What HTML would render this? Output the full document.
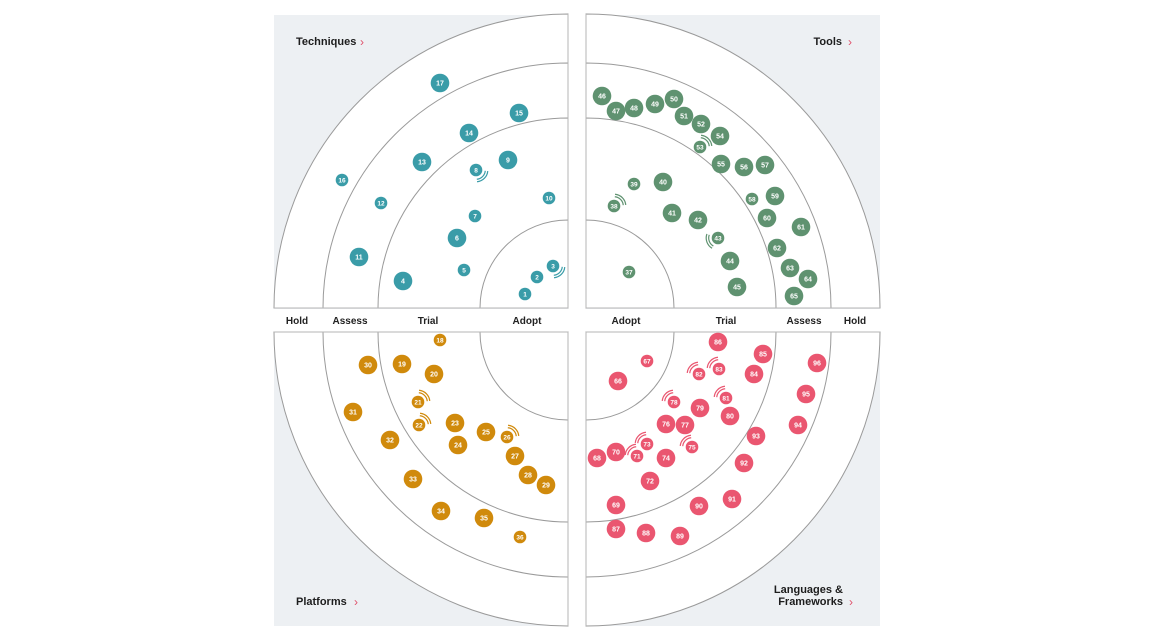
<!DOCTYPE html>
<html><head><meta charset="utf-8"><style>
html,body{margin:0;padding:0;background:#fff;width:1170px;height:634px;overflow:hidden}
svg{display:block;font-family:"Liberation Sans",sans-serif}
</style></head><body>
<svg id="radar" width="1170" height="634" viewBox="0 0 1170 634" xmlns="http://www.w3.org/2000/svg"></svg>
<script>
const NS='http://www.w3.org/2000/svg';
const ringNames=['Adopt','Trial','Assess','Hold'];
const ringRadii=[88,190,245,294];
const quadNames=['Techniques','Tools','Platforms','Languages & Frameworks'];
const quadColors=['#3a9ca8','#5f9270','#d08a0c','#ea5670'];
const techIds=[1,2,3,4,5,6,7,8,9,10,11,12,13,14,15,16,17];
const techDx=[-43,-31,-15,-165,-104,-111,-93,-92,-60,-19,-209,-187,-146,-99,-49,-226,-128];
const techDy=[-14,-31,-42,-27,-38,-70,-92,-138,-148,-110,-51,-105,-146,-175,-195,-128,-225];
const techBig=[0,0,0,1,0,1,0,0,1,0,1,0,1,1,1,0,1];
const techArc=[null,null,45,null,null,null,null,45,null,null,null,null,null,null,null,null,null];
const toolIds=[37,38,39,40,41,42,43,44,45,46,47,48,49,50,51,52,53,54,55,56,57,58,59,60,61,62,63,64,65];
const toolDx=[43,28,48,77,86,112,132,144,151,16,30,48,69,88,98,115,114,134,135,158,179,166,189,181,215,191,204,222,208];
const toolDy=[-36,-102,-124,-126,-95,-88,-70,-47,-21,-212,-197,-200,-204,-209,-192,-184,-161,-172,-144,-141,-143,-109,-112,-90,-81,-60,-40,-29,-12];
const toolBig=[0,0,0,1,1,1,0,1,1,1,1,1,1,1,1,1,0,1,1,1,1,0,1,1,1,1,1,1,1];
const toolArc=[null,-45,null,null,null,null,160,null,null,null,null,null,null,null,null,null,-45,null,null,null,null,null,null,null,null,null,null,null,null];
const platIds=[18,19,20,21,22,23,24,25,26,27,28,29,30,31,32,33,34,35,36];
const platDx=[-128,-166,-134,-150,-149,-113,-110,-82,-61,-53,-40,-22,-200,-215,-178,-155,-127,-84,-48];
const platDy=[8,32,42,70,93,91,113,100,105,124,143,153,33,80,108,147,179,186,205];
const platBig=[0,1,1,0,0,1,1,1,0,1,1,1,1,1,1,1,1,1,0];
const platArc=[null,null,null,-45,-45,null,null,null,-45,null,null,null,null,null,null,null,null,null,null];
const langIds=[66,67,68,69,70,71,72,73,74,75,76,77,78,79,80,81,82,83,84,85,86,87,88,89,90,91,92,93,94,95,96];
const langDx=[32,61,11,30,30,51,64,61,80,106,80,99,88,114,144,140,113,133,168,177,132,30,60,94,113,146,158,170,212,220,231];
const langDy=[49,29,126,173,120,124,149,112,126,115,92,93,70,76,84,66,42,37,42,22,10,197,201,204,174,167,131,104,93,62,31];
const langBig=[1,0,1,1,1,0,1,0,1,0,1,1,0,1,1,0,0,0,1,1,1,1,1,1,1,1,1,1,1,1,1];
const langArc=[null,null,null,null,null,-135,null,-135,null,-135,null,null,-135,null,null,-135,-135,-135,null,null,null,null,null,null,null,null,null,null,null,null,null];

const svg=document.getElementById('radar');
function mk(tag,attrs,parent){const e=document.createElementNS(NS,tag);for(const k in attrs)e.setAttribute(k,attrs[k]);(parent||svg).appendChild(e);return e;}
const quads=[{cx:568,cy:308,sx:-1,sy:-1,bx:274,by:15},{cx:586,cy:308,sx:1,sy:-1,bx:586,by:15},{cx:568,cy:332,sx:-1,sy:1,bx:274,by:332},{cx:586,cy:332,sx:1,sy:1,bx:586,by:332}];
const W=294;
function xScale(q,v){return q.cx+v;}
function yScale(q,v){return q.cy+v;}

quads.forEach((q,i)=>{
  const g=mk('g',{});
  
  
  const bg=mk('rect',{x:q.bx,y:q.by,width:W,height:W,fill:'#edf0f3'},g);
  
  
  for(let r=ringRadii.length-1;r>=0;r--){
    const R=ringRadii[r];
    const ex=q.cx+q.sx*R, ey=q.cy+q.sy*R;
    const sweep=(q.sx*q.sy>0)?1:0;
    const d=`M${q.cx},${q.cy} L${ex},${q.cy} A${R},${R} 0 0 ${sweep} ${q.cx},${ey} Z`;
    const p=mk('path',{d:d,fill:'#fff',stroke:'#9a9a9a','stroke-width':1},g);
    
    
  }
  mk('line',{x1:q.cx,y1:q.cy,x2:q.cx+q.sx*W,y2:q.cy,stroke:'#b5b5b5','stroke-width':1},g);
  mk('line',{x1:q.cx,y1:q.cy,x2:q.cx,y2:q.cy+q.sy*W,stroke:'#b5b5b5','stroke-width':1},g);
});

const labelXL=[527,428,350,297], labelXR=[626,726,804,855];
ringNames.forEach((n,i)=>{
  [labelXL[i],labelXR[i]].forEach(x=>{
    const t=mk('text',{x:x,y:324,'text-anchor':'middle','font-size':10,'font-weight':'bold',fill:'#222'});
    t.textContent=n;
    
    
  });
});

function title(lines,x,y,anchor,arrowX,arrowY,name){
  const g=mk('g',{});
  
  
  lines.forEach((l,k)=>{const t=mk('text',{x:x,y:y+k*12,'text-anchor':anchor,'font-size':11,'font-weight':'bold',fill:'#1d1d1d'},g);t.textContent=l;});
  const a=mk('text',{x:arrowX,y:arrowY,'font-size':12,fill:'#e0506a'},g);a.textContent='›';
}
title(['Techniques'],296,45,'start',360,46,'techniques-title-link');
title(['Tools'],842,45,'end',848,46,'tools-title-link');
title(['Platforms'],296,605,'start',354,606,'platforms-title-link');
title(['Languages &','Frameworks'],843,593,'end',849,606,'languages-frameworks-title-link');

function drawBlips(qi,ids,dx,dy,big,arc){
  const q=quads[qi];
  ids.forEach((id,i)=>{
    const x=xScale(q,dx[i]), y=yScale(q,dy[i]);
    const r=big[i]?9.3:6.3;
    const g=mk('g',{});
    
    
    mk('circle',{cx:x,cy:y,r:r,fill:quadColors[qi]},g);
    if(arc[i]!==null){
      const a0=(arc[i]-40)*Math.PI/180, a1=(arc[i]+40)*Math.PI/180;
      [r+3,r+5.5].forEach(rr=>{
        mk('path',{d:`M${x+rr*Math.cos(a0)},${y+rr*Math.sin(a0)} A${rr},${rr} 0 0 1 ${x+rr*Math.cos(a1)},${y+rr*Math.sin(a1)}`,fill:'none',stroke:quadColors[qi],'stroke-width':1.2},g);
      });
    }
    const t=mk('text',{x:x,y:y+2.5,'text-anchor':'middle','font-size':big[i]?7:6.5,'font-weight':'bold',fill:'#fff'},g);
    t.textContent=id;
  });
}
drawBlips(0,techIds,techDx,techDy,techBig,techArc);
drawBlips(1,toolIds,toolDx,toolDy,toolBig,toolArc);
drawBlips(2,platIds,platDx,platDy,platBig,platArc);
drawBlips(3,langIds,langDx,langDy,langBig,langArc);
</script>
</body></html>
